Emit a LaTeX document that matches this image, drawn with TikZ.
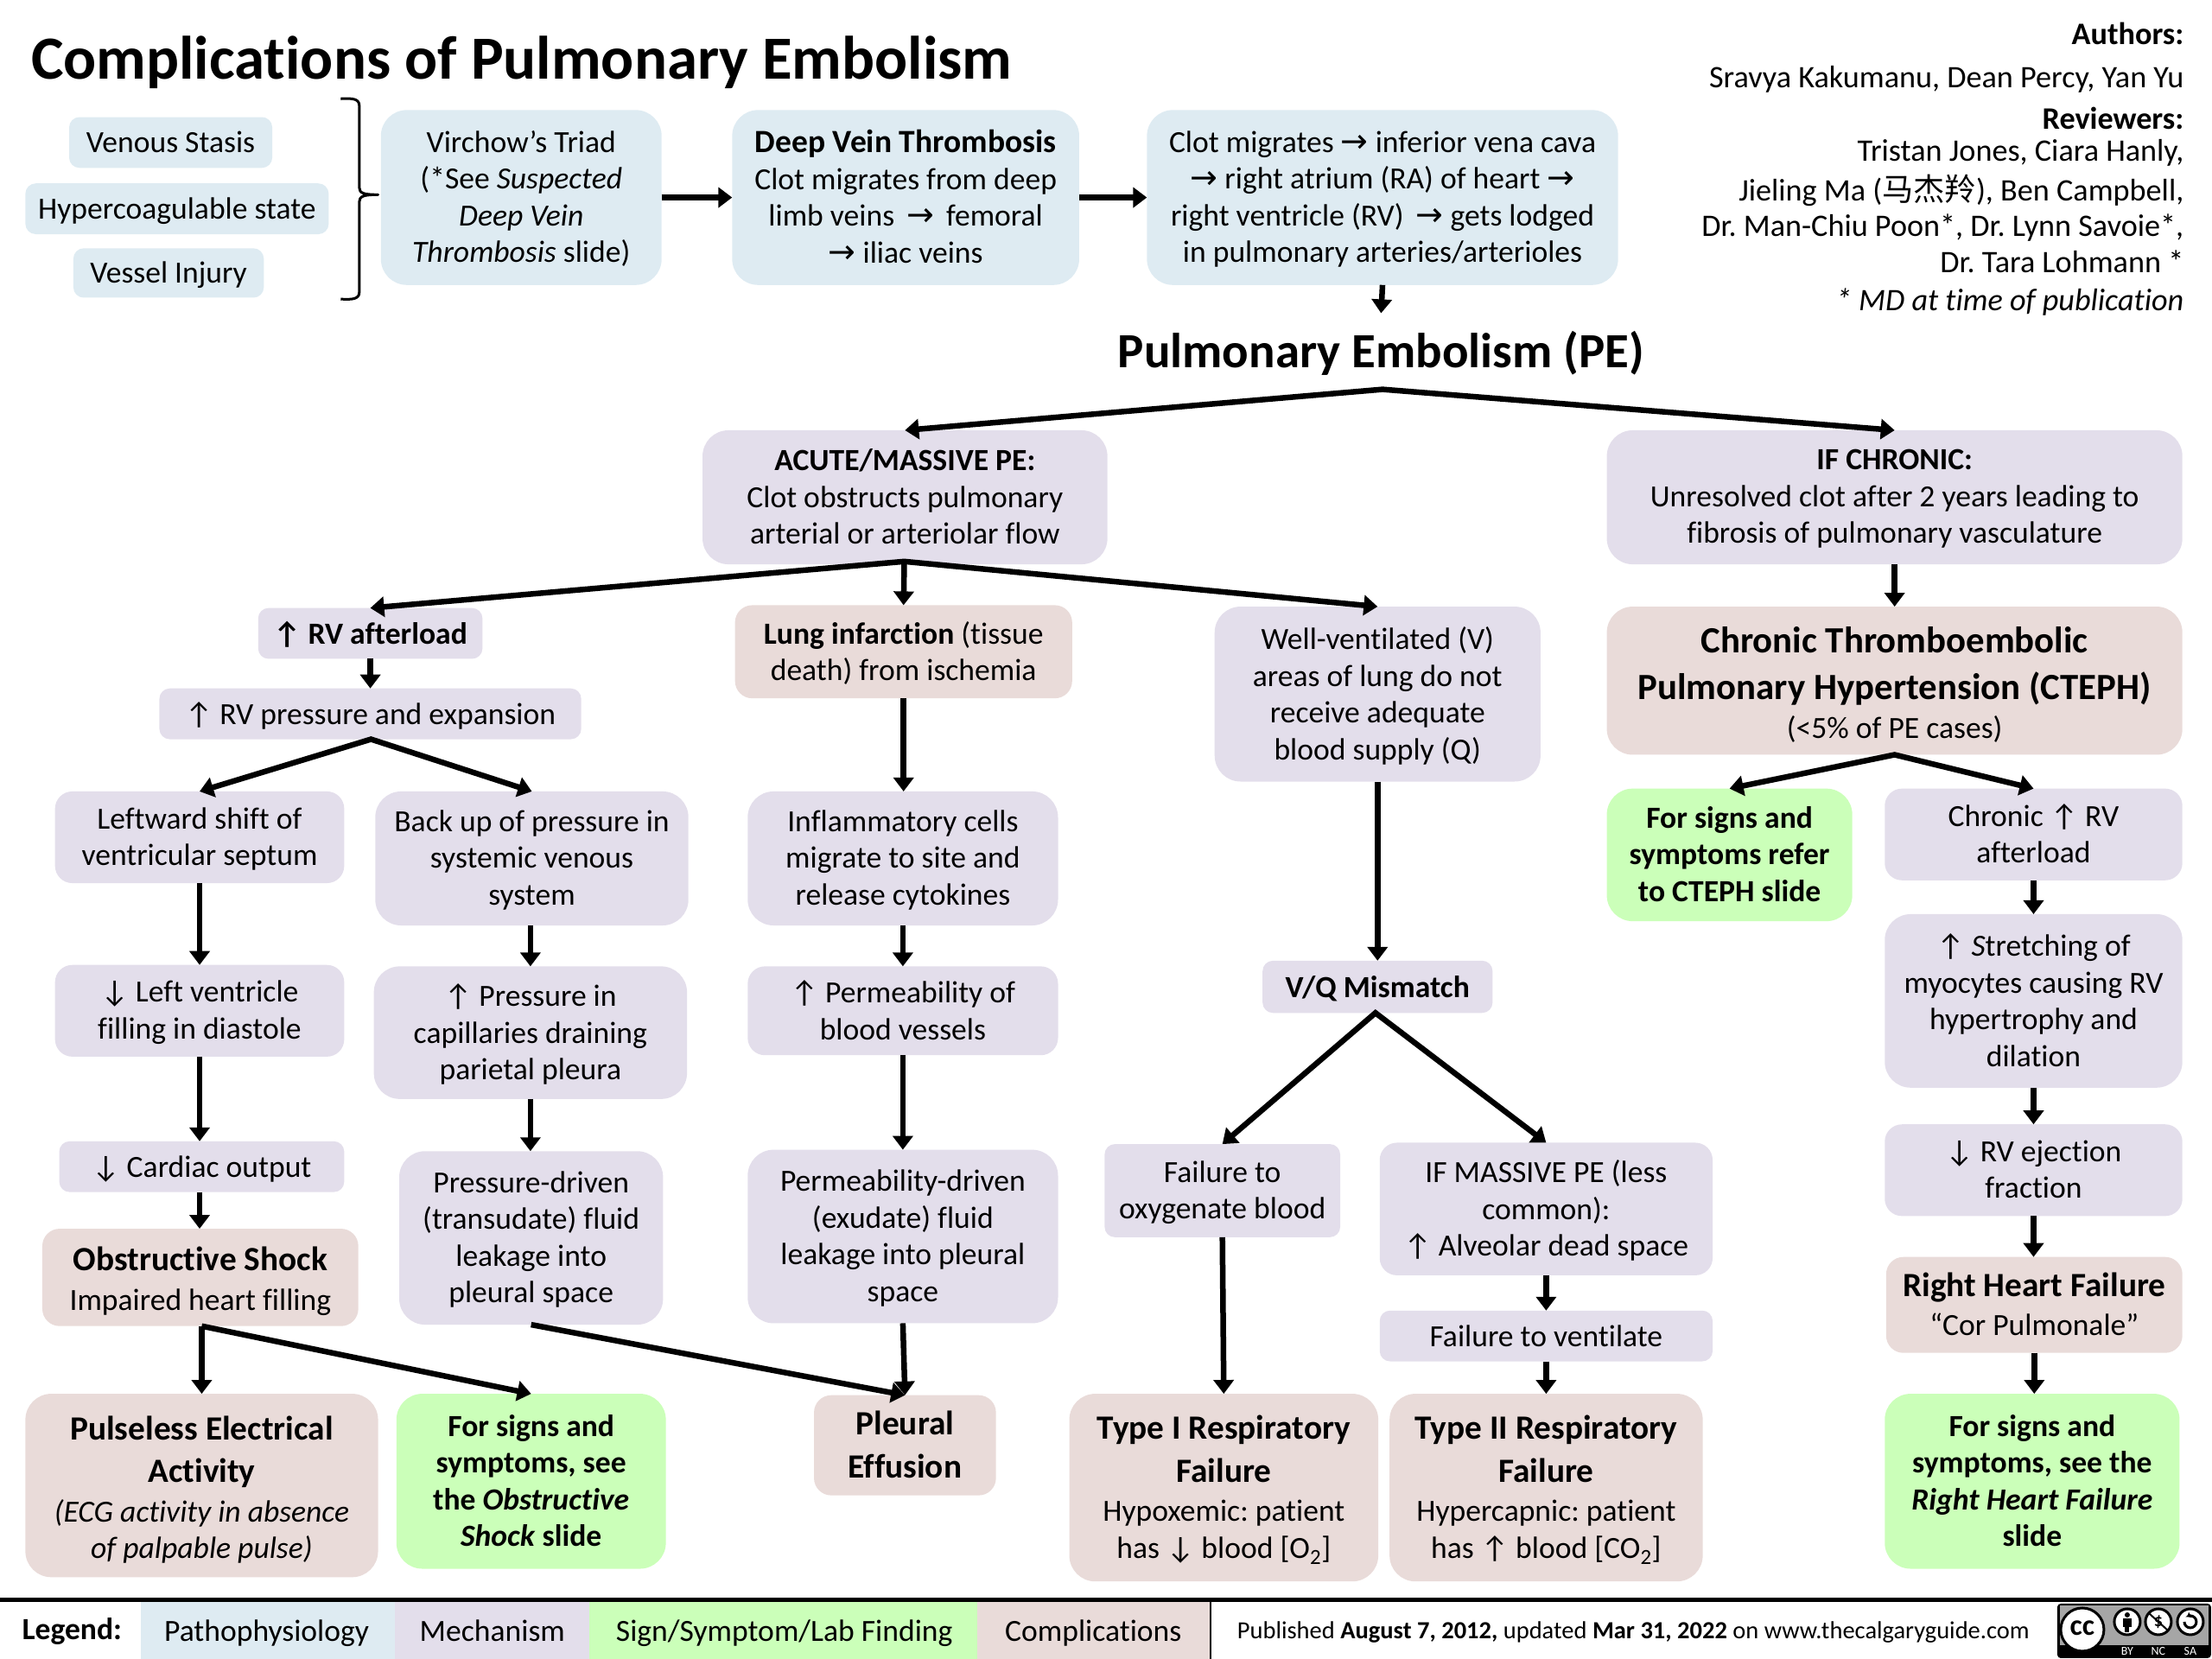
\documentclass[tikz,border=0pt]{standalone}
\usepackage{fontspec}
\setmainfont[Ligatures=NoCommon]{Carlito}
\newfontfamily\symf{DejaVu Sans}
\newfontfamily\cjk{Noto Sans CJK SC}
\usetikzlibrary{arrows.meta,calc}
\AtBeginDocument{\frenchspacing}
\definecolor{cblue}{HTML}{DEEBF2}
\definecolor{cpurple}{HTML}{E3DEEB}
\definecolor{cgreen}{HTML}{CBFFB9}
\definecolor{cpink}{HTML}{E9DBD9}
\newcommand{\ra}{{\symf\fontsize{38}{42.5}\selectfont →}}
\newcommand{\fA}{\fontsize{39.3}{49}\selectfont\bfseries}
\newcommand{\fB}{\fontsize{42.8}{52}\selectfont\bfseries}
\newcommand{\singlestrut}{\rule[-9pt]{0pt}{42pt}}
\newcommand{\bx}[7]{\node[#2,minimum width={(#5-#3)*1.6327pt},minimum height={(#6-#4)*1.6327pt}] (#1) at ({(#3+#5)/2},{(#4+#6)/2}) {#7};}
\tikzset{
  base/.style={inner sep=0pt,outer sep=0pt,align=center,text=black,font=\fontsize{35.6}{42.5}\selectfont,execute at end node=\rule[-9pt]{0pt}{1pt}},
  sl/.style={execute at begin node=\singlestrut},
  ml/.style={text depth=2pt},
  rbighead/.style={base,rounded corners=30pt},
  rmidhead/.style={base,rounded corners=20pt},
  rbig/.style={rbighead,ml},
  rmid/.style={rmidhead,ml},
  rsmall/.style={base,sl,rounded corners=12pt},
  blue/.style={fill=cblue}, purple/.style={fill=cpurple}, green/.style={fill=cgreen}, pink/.style={fill=cpink},
  arr/.style={line width=6.5pt,draw=black,-{Triangle[length=16pt,width=23pt]},line join=miter},
  arrtwo/.style={line width=6.5pt,draw=black,{Triangle[length=16pt,width=23pt]}-{Triangle[length=16pt,width=23pt]},line join=miter},
  plain/.style={base,sl,anchor=east,align=right,font=\fontsize{36.2}{42.5}\selectfont},
  leg/.style={inner sep=0pt,outer sep=0pt,text=black,font=\fontsize{35.6}{42}\selectfont,sl},
}
\begin{document}
\begin{tikzpicture}[x=1.6327pt,y=-1.6327pt]
\useasboundingbox (0,0) rectangle (1568,1176);
% title
\node[inner sep=0pt,anchor=west,font=\fontsize{70.9}{80}\selectfont\bfseries] (title) at (22,44) {Complications of Pulmonary Embolism};
% authors
\node[plain] (au1) at (1548,24) {\textbf{Authors:}};
\node[plain] (au2) at (1548,55) {Sravya Kakumanu, Dean Percy, Yan Yu};
\node[plain] (au3) at (1548,84) {\textbf{Reviewers:}};
\node[plain] (au4) at (1548,107) {Tristan Jones, Ciara Hanly,};
\node[plain] (au5) at (1548,135) {Jieling Ma ({\cjk 马杰羚}), Ben Campbell,};
\node[plain] (au6) at (1548,160) {Dr. Man-Chiu Poon*, Dr. Lynn Savoie*,};
\node[plain] (au7) at (1548,186) {Dr. Tara Lohmann *};
\node[plain] (au8) at (1548,213) {\emph{* MD at time of publication}};
% top row
\bx{vs}{rsmall,blue}{49}{83}{193}{119}{Venous Stasis}
\bx{hs}{rsmall,blue}{18}{130}{233}{166}{Hypercoagulable state}
\bx{vi}{rsmall,blue}{52}{176}{187}{211}{Vessel Injury}
\draw[line width=3pt,line join=round] (241.5,70) .. controls (250,69.5) and (254.7,70) .. (254.7,75) -- (254.7,133) .. controls (254.7,137) and (258,138) .. (268,138) .. controls (258,138) and (254.7,139) .. (254.7,143) -- (254.7,207) .. controls (254.7,212) and (250,212.5) .. (241.5,212);
\bx{vt}{rbig,blue}{270}{78}{469}{202}{Virchow’s Triad\\(*See \emph{Suspected}\\\emph{Deep Vein}\\\emph{Thrombosis} slide)}
\bx{dvt}{rbig,blue}{519}{78}{765}{202}{{\fontsize{37.5}{42.5}\selectfont\bfseries Deep Vein Thrombosis}\\Clot migrates from deep\\limb veins\,~\ra{}~\,femoral\\\ra{} iliac veins}
\bx{clot}{rbig,blue}{813}{78}{1147}{202}{Clot migrates \ra{} inferior vena cava\\\ra{} right atrium (RA) of heart \ra\\right ventricle (RV)~\,\ra{} gets lodged\\in pulmonary arteries/arterioles}
\bx{pe}{base}{790}{222}{1168}{274}{\rule{0pt}{50pt}\fontsize{56.9}{60}\selectfont\bfseries Pulmonary Embolism (PE)}
\bx{acute}{rbig,purple}{498}{305}{785}{400}{\textbf{ACUTE/MASSIVE PE:}\\Clot obstructs pulmonary\\arterial or arteriolar flow}
\bx{chronic}{rbig,purple}{1139}{305}{1547}{400}{\textbf{IF CHRONIC:}\\Unresolved clot after 2 years leading to\\fibrosis of pulmonary vasculature}
% column 1
\bx{rva}{rsmall,purple}{183}{431}{342}{467}{\textbf{↑ RV afterload}}
\bx{rvp}{rsmall,purple}{113}{488}{412}{524}{↑ RV pressure and expansion}
\bx{lsv}{rmid,purple}{39}{561}{244}{626}{Leftward shift of\\ventricular septum}
\bx{lvf}{rmid,purple}{39}{684}{244}{749}{↓ Left ventricle\\filling in diastole}
\bx{co}{rsmall,purple}{42}{809}{244}{845}{↓ Cardiac output}
\bx{os}{rmidhead,pink}{30}{871}{254}{940}{\rule{0pt}{39pt}{\fA Obstructive Shock}\\[3pt]Impaired heart filling}
\bx{pea}{rbighead,pink}{18}{988}{268}{1118}{\rule{0pt}{41pt}{\fA Pulseless Electrical}\\[7pt]{\fA Activity}\\[3pt]\emph{(ECG activity in absence}\\\emph{of palpable pulse)}}
\bx{sos}{rbig,green}{281}{988}{472}{1112}{\textbf{For signs and}\\\textbf{symptoms, see}\\\textbf{the \emph{Obstructive}}\\\textbf{\emph{Shock} slide}}
% column 2
\bx{bp}{rbig,purple}{266}{561}{488}{656}{Back up of pressure in\\systemic venous\\system}
\bx{pc}{rbig,purple}{265}{685}{487}{779}{↑ Pressure in\\capillaries draining\\parietal pleura}
\bx{pd}{rbig,purple}{283}{816}{470}{939}{Pressure-driven\\(transudate) fluid\\leakage into\\pleural space}
% column 3
\bx{li}{rmid,pink}{521}{429}{760}{495}{\textbf{Lung infarction} (tissue\\death) from ischemia}
\bx{ic}{rbig,purple}{530}{561}{750}{656}{Inflammatory cells\\migrate to site and\\release cytokines}
\bx{pb}{rmid,purple}{530}{685}{750}{748}{↑ Permeability of\\blood vessels}
\bx{ex}{rbig,purple}{530}{815}{750}{938}{Permeability-driven\\(exudate) fluid\\leakage into pleural\\space}
\bx{ple}{rmid,pink}{577}{989}{706}{1060}{{\fA Pleural}\\[7pt]{\fA Effusion}}
% column 4
\bx{wv}{rbig,purple}{861}{430}{1092}{554}{Well-ventilated (V)\\areas of lung do not\\receive adequate\\blood supply (Q)}
\bx{vq}{rsmall,purple}{895}{681}{1058}{718}{\textbf{V/Q Mismatch}}
\bx{fo}{base,ml,rounded corners=12pt,purple}{783}{811}{950}{877}{Failure to\\oxygenate blood}
\bx{ma}{rmid,purple}{978}{810}{1214}{904}{IF MASSIVE PE (less\\common):\\↑ Alveolar dead space}
\bx{fv}{rsmall,purple}{978}{929}{1214}{965}{Failure to ventilate}
\bx{t1}{rbig,pink}{758}{988}{977}{1121}{{\fA Type I Respiratory}\\[7pt]{\fA Failure}\\[3pt]Hypoxemic: patient\\has ↓ blood [O\textsubscript{2}]}
\bx{t2}{rbig,pink}{985}{988}{1207}{1121}{{\fA Type II Respiratory}\\[7pt]{\fA Failure}\\[3pt]Hypercapnic: patient\\has ↑ blood [CO\textsubscript{2}]}
% chronic column
\bx{ct}{rbighead,pink}{1139}{430}{1547}{535}{\rule{0pt}{44pt}{\fB Chronic Thromboembolic}\\[11pt]{\fB Pulmonary Hypertension (CTEPH)}\\[3pt](<5\% of PE cases)}
\bx{sc}{rbig,green}{1139}{559}{1313}{653}{\textbf{For signs and}\\\textbf{symptoms refer}\\\textbf{to CTEPH slide}}
\bx{cr}{rmid,purple}{1336}{559}{1547}{624}{Chronic ↑ RV\\afterload}
\bx{st}{rbig,purple}{1336}{648}{1547}{771}{↑ \emph{S}tretching of\\myocytes causing RV\\hypertrophy and\\dilation}
\bx{ej}{rmid,purple}{1336}{797}{1547}{862}{↓ RV ejection\\fraction}
\bx{rh}{rmid,pink}{1337}{891}{1547}{959}{{\fA Right Heart Failure}\\[3pt]“Cor Pulmonale”}
\bx{sr}{rbig,green}{1336}{988}{1545}{1112}{\textbf{For signs and}\\\textbf{symptoms, see the}\\\textbf{\emph{Right Heart Failure}}\\\textbf{slide}}
% split points
\coordinate (pesplit) at (980,276);
\coordinate (acsplit) at (641,398);
\coordinate (rvsplit) at (263,524);
\coordinate (vqsplit) at (975,718);
\coordinate (ctsplit) at (1343,535);
\coordinate (ossplit) at (143,940);
% connectors
\draw[arr] (vt.east) -- (dvt.west);
\draw[arr] (dvt.east) -- (clot.west);
\draw[arr] (clot.south) -- (pe.north);
\draw[arrtwo] (acute.north) -- (pesplit) -- (chronic.north);
\draw[arrtwo] (rva.north) -- (acsplit) -- (wv.north);
\draw[arr] (acsplit) -- (li.north);
\draw[arr] (rva.south) -- (rvp.north);
\draw[arrtwo] (lsv.north) -- (rvsplit) -- (bp.north);
\draw[arr] (lsv.south) -- (lvf.north);
\draw[arr] (lvf.south) -- (lvf.south |- co.north);
\draw[arr] (lvf.south |- co.south) -- (lvf.south |- os.north);
\draw[arr] (ossplit) -- (ossplit |- pea.north);
\draw[arr] (ossplit) -- (sos.north);
\draw[arr] (pc.north |- bp.south) -- (pc.north);
\draw[arr] (pc.south) -- (pc.south |- pd.north);
\draw[arr] (pd.south) -- (ple.north);
\draw[arr] (li.south) -- (li.south |- ic.north);
\draw[arr] (ic.south) -- (pb.north);
\draw[arr] (pb.south) -- (ex.north);
\draw[arr] (ex.south) -- (ple.north);
\draw[arr] (wv.south) -- (wv.south |- vq.north);
\draw[arrtwo] (fo.north) -- (vqsplit) -- (ma.north);
\draw[arr] (fo.south) -- (t1.north);
\draw[arr] (ma.south) -- (fv.north);
\draw[arr] (fv.south) -- (fv.south |- t2.north);
\draw[arr] (ct.north |- chronic.south) -- (ct.north);
\draw[arrtwo] (sc.north) -- (ctsplit) -- (cr.north);
\draw[arr] (cr.south) -- (st.north);
\draw[arr] (st.south) -- (ej.north);
\draw[arr] (ej.south) -- (ej.south |- rh.north);
\draw[arr] (rh.south) -- (rh.south |- sr.north);
% legend
\fill[cblue] (100,1135) rectangle (280,1176);
\fill[cpurple] (280,1135) rectangle (418,1176);
\fill[cgreen] (418,1135) rectangle (693,1176);
\fill[cpink] (693,1135) rectangle (858,1176);
\draw[line width=4.5pt] (0,1134) -- (1568,1134);
\draw[line width=2.5pt] (858,1134) -- (858,1176);
\node[leg] (lg0) at (51,1155) {\textbf{Legend:}};
\node[leg] (lg1) at (189,1156) {Pathophysiology};
\node[leg] (lg2) at (349,1156) {Mechanism};
\node[leg] (lg3) at (556,1156) {Sign/Symptom/Lab Finding};
\node[leg] (lg4) at (775,1156) {Complications};
\node[leg,anchor=west,font=\fontsize{28.5}{36}\selectfont] (pub) at (877,1154) {Published \textbf{August 7, 2012,} updated \textbf{Mar 31, 2022} on www.thecalgaryguide.com};
% licence badge, in reference pixels
\begin{scope}[x=1pt,y=-1pt,shift={(0pt,0pt)}]
\fill[black,rounded corners=4pt] (2381,1856) rectangle (2559,1919);
\fill[black!35] (2384,1858) rectangle (2556,1904);
\fill[white,draw=black,line width=3pt] (2410,1886) circle (25);
\fill[white,draw=black,line width=3pt] (2462,1877) circle (15);
\fill[white,draw=black,line width=3pt] (2498,1877) circle (15);
\fill[white,draw=black,line width=3pt] (2535,1877) circle (15);
\node[inner sep=0pt,font=\fontsize{34}{34}\selectfont\bfseries] (cc) at (2410,1884) {cc};
\fill (2462,1869) circle (3);
\fill (2457,1873) rectangle (2467,1883);
\fill (2459.5,1883) rectangle (2464.5,1889);
\node[inner sep=0pt,font=\fontsize{20}{20}\selectfont\bfseries] (nc) at (2498,1877) {\$};
\draw[line width=2pt] (2487,1867) -- (2509,1887);
\draw[line width=3pt,-{Triangle[length=4pt,width=7pt]}] (2528,1877) arc[start angle=180,end angle=-120,radius=7];
\node[inner sep=0pt,text=white,font=\fontsize{14}{14}\selectfont] (by) at (2462,1911) {BY};
\node[inner sep=0pt,text=white,font=\fontsize{14}{14}\selectfont] (ncl) at (2498,1911) {NC};
\node[inner sep=0pt,text=white,font=\fontsize{14}{14}\selectfont] (sa) at (2535,1911) {SA};
\end{scope}
\end{tikzpicture}
\end{document}
